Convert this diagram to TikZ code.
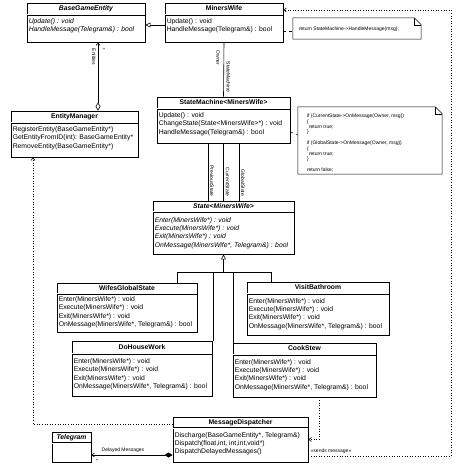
\documentclass[tikz,border=0pt]{standalone}
\usepackage{fontspec}
\setmainfont{Liberation Sans}
\usetikzlibrary{positioning}
\usetikzlibrary{arrows.meta}

\begin{document}
\begin{tikzpicture}[x=1pt, y=-1pt,
    clase/.style={draw, line width=0.9pt, inner sep=0pt},
    titulo/.style={font=\fontsize{6.8}{8}\selectfont\bfseries, inner sep=0pt},
    tituloabs/.style={font=\fontsize{6.8}{8}\selectfont\bfseries\itshape, inner sep=0pt},
    metodos/.style={font=\fontsize{6.8}{8.3}\selectfont, align=left, inner sep=0pt},
    metodosabs/.style={font=\fontsize{6.8}{8.3}\selectfont\itshape, align=left, inner sep=0pt},
    separador/.style={double, double distance=0.9pt, line width=0.5pt},
    etiqueta/.style={font=\fontsize{5}{6}\selectfont, inner sep=0pt},
    textonota/.style={font=\fontsize{5}{5.4}\selectfont, align=left, inner sep=0pt},
    nota/.style={inner sep=0pt},
    borde/.style={line width=0.5pt},
    linea/.style={line width=0.6pt},
    herencia/.style={linea, -{Triangle[open, length=5pt, width=5pt]}},
    agregacion/.style={linea, {Diamond[open, length=8pt, width=5pt]}-{Straight Barb[length=2.5pt, width=4pt]}},
    composicion/.style={linea, {Diamond[length=8pt, width=5pt]}-{Straight Barb[length=2.5pt, width=4pt]}},
    dependencia/.style={linea, dotted, -{Straight Barb[length=2.5pt, width=4pt]}},
    enlacenota/.style={borde, dashed}]
    \useasboundingbox (0,0) rectangle (474,471);

    % Clases
    \node[clase, minimum width=118, minimum height=39] (base) at (86,22.5) {};
    \node[tituloabs, below=2.5pt of base.north] (baseT) {BaseGameEntity};
    \draw[separador] ([yshift=-12pt]base.north west) -- ([yshift=-12pt]base.north east);
    \node[metodosabs, below right=16pt and 2pt of base.north west] (baseM) {Update() : void\\HandleMessage(Telegram\&) : bool};

    \node[clase, minimum width=118, minimum height=39] (wife) at (224,22.5) {};
    \node[titulo, below=2.5pt of wife.north] (wifeT) {MinersWife};
    \draw[separador] ([yshift=-12pt]wife.north west) -- ([yshift=-12pt]wife.north east);
    \node[metodos, below right=16pt and 2pt of wife.north west] (wifeM) {Update() : void\\HandleMessage(Telegram\&) : bool};

    \node[clase, minimum width=127, minimum height=46] (manager) at (74.5,134) {};
    \node[titulo, below=3pt of manager.north] (managerT) {EntityManager};
    \draw[separador] ([yshift=-12pt]manager.north west) -- ([yshift=-12pt]manager.north east);
    \node[metodos, below right=16pt and 2pt of manager.north west] (managerM) {RegisterEntity(BaseGameEntity*)\\GetEntityFromID(int): BaseGameEntity*\\RemoveEntity(BaseGameEntity*)};

    \node[clase, minimum width=133, minimum height=46] (machine) at (223.5,120) {};
    \node[titulo, below=2.5pt of machine.north] (machineT) {StateMachine<MinersWife>};
    \draw[separador] ([yshift=-12pt]machine.north west) -- ([yshift=-12pt]machine.north east);
    \node[metodos, below right=16pt and 2pt of machine.north west] (machineM) {Update() : void\\ChangeState(State<MinersWife>*) : void\\HandleMessage(Telegram\&) : bool};

    \node[clase, minimum width=141, minimum height=53] (state) at (223.5,227.5) {};
    \node[tituloabs, below=2.5pt of state.north] (stateT) {State<MinersWife>};
    \draw[separador] ([yshift=-11pt]state.north west) -- ([yshift=-11pt]state.north east);
    \node[metodosabs, below right=16.5pt and 2pt of state.north west] (stateM) {Enter(MinersWife*) : void\\Execute(MinersWife*) : void\\Exit(MinersWife*) : void\\OnMessage(MinersWife*, Telegram\&) : bool};

    \node[clase, minimum width=140, minimum height=49] (global) at (127,307.5) {};
    \node[titulo, below=2.5pt of global.north] (globalT) {WifesGlobalState};
    \draw[separador] ([yshift=-11pt]global.north west) -- ([yshift=-11pt]global.north east);
    \node[metodos, below right=14pt and 2pt of global.north west] (globalM) {Enter(MinersWife*) : void\\Execute(MinersWife*) : void\\Exit(MinersWife*) : void\\OnMessage(MinersWife*, Telegram\&) : bool};

    \node[clase, minimum width=142, minimum height=53] (visit) at (318,308.5) {};
    \node[titulo, below=2.5pt of visit.north] (visitT) {VisitBathroom};
    \draw[separador] ([yshift=-12pt]visit.north west) -- ([yshift=-12pt]visit.north east);
    \node[metodos, below right=16.5pt and 2pt of visit.north west] (visitM) {Enter(MinersWife*) : void\\Execute(MinersWife*) : void\\Exit(MinersWife*) : void\\OnMessage(MinersWife*, Telegram\&) : bool};

    \node[clase, minimum width=140, minimum height=55] (house) at (142,368.5) {};
    \node[titulo, below=3.5pt of house.north] (houseT) {DoHouseWork};
    \draw[separador] ([yshift=-13pt]house.north west) -- ([yshift=-13pt]house.north east);
    \node[metodos, below right=18pt and 2pt of house.north west] (houseM) {Enter(MinersWife*) : void\\Execute(MinersWife*) : void\\Exit(MinersWife*) : void\\OnMessage(MinersWife*, Telegram\&) : bool};

    \node[clase, minimum width=143, minimum height=54] (stew) at (304.5,370) {};
    \node[titulo, below=3pt of stew.north] (stewT) {CookStew};
    \draw[separador] ([yshift=-12pt]stew.north west) -- ([yshift=-12pt]stew.north east);
    \node[metodos, below right=16.5pt and 2pt of stew.north west] (stewM) {Enter(MinersWife*) : void\\Execute(MinersWife*) : void\\Exit(MinersWife*) : void\\OnMessage(MinersWife*, Telegram\&) : bool};

    \node[clase, minimum width=135, minimum height=45] (dispatcher) at (240.5,439.5) {};
    \node[titulo, below=2.5pt of dispatcher.north] (dispatcherT) {MessageDispatcher};
    \draw[separador] ([yshift=-11.5pt]dispatcher.north west) -- ([yshift=-11.5pt]dispatcher.north east);
    \node[metodos, below right=15.5pt and 2pt of dispatcher.north west] (dispatcherM) {Discharge(BaseGameEntity*, Telegram\&)\\Dispatch(float,int, int,int,void*)\\DispatchDelayedMessages()};

    \node[clase, minimum width=39, minimum height=30] (telegram) at (71.5,447) {};
    \node[tituloabs, below=2.5pt of telegram.north] (telegramT) {Telegram};
    \draw[separador] ([yshift=-11.5pt]telegram.north west) -- ([yshift=-11.5pt]telegram.north east);

    % Notas
    \node[nota, minimum width=128, minimum height=21] (nota1) at (357,28.5) {};
    \draw[borde] (nota1.south west) -- (nota1.north west) -- ([xshift=-7pt]nota1.north east) -- ([yshift=-7pt]nota1.north east) -- (nota1.south east) -- cycle;
    \draw[borde] ([xshift=-7pt]nota1.north east) |- ([yshift=-7pt]nota1.north east);
    \node[textonota, below right=8.5pt and 6pt of nota1.north west] (nota1T) {return StateMachine->HandleMessage(msg);};

    \node[nota, minimum width=144, minimum height=67] (nota2) at (370,140.5) {};
    \draw[borde] (nota2.south west) -- (nota2.north west) -- ([xshift=-7pt]nota2.north east) -- ([yshift=-7pt]nota2.north east) -- (nota2.south east) -- cycle;
    \draw[borde] ([xshift=-7pt]nota2.north east) |- ([yshift=-7pt]nota2.north east);
    \node[textonota, below right=7pt and 9pt of nota2.north west] (nota2T) {if (CurrentState->OnMessage(Owner, msg))\\\{\\\hspace*{2pt}return true;\\\}\\[5.4pt]if (GlobalState->OnMessage(Owner, msg))\\\{\\\hspace*{2pt}return true;\\\}\\[5.4pt]return false;};

    % Relaciones
    \draw[herencia] ([yshift=-2.5pt]wife.west) -- ([yshift=-2.5pt]base.east);
    \draw[agregacion] ([xshift=23.5pt]manager.north) -- ([xshift=12pt]base.south);
    \draw[composicion, -] (wife.south) -- (machine.north);
    \draw[agregacion, -] ([xshift=-15.5pt]machine.south) -- ([xshift=-15.5pt]state.north);
    \draw[agregacion, -] (machine.south) -- (state.north);
    \draw[agregacion, -] ([xshift=15.5pt]machine.south) -- ([xshift=15.5pt]state.north);

    \coordinate (barra) at (223.5,272);
    \draw[herencia] (barra) -- (state.south);
    \draw[linea] ([xshift=50pt]global.north) |- (barra);
    \draw[linea] ([xshift=-47pt]visit.north) |- (barra);
    \draw[linea] ([xshift=71pt]house.north) |- (barra);
    \draw[linea] ([xshift=-71.5pt]stew.north) |- (barra);

    \draw[dependencia] ([xshift=14.5pt]stew.south) |- (dispatcher.east);
    \draw[dependencia] ([yshift=15.5pt]dispatcher.west) -| ([xshift=-41.5pt]manager.south);
    \coordinate (esquina) at (451,230);
    \draw[dependencia] ([yshift=-16.5pt]dispatcher.east) -| (esquina) |- ([yshift=12.5pt]wife.east);
    \draw[composicion] ([yshift=-15.5pt]dispatcher.west) -- ([yshift=-8pt]telegram.east);

    \draw[enlacenota] ([yshift=-8.5pt]wife.east) -- ([yshift=-2.5pt]nota1.west);
    \draw[enlacenota] ([yshift=-12pt]machine.east) -- ([yshift=5.5pt]nota2.west);

    % Etiquetas
    \node[etiqueta, rotate=-90] (entities) at (94,57) {Entities};
    \node[etiqueta] (muchos1) at (104,50) {*};
    \node[etiqueta, rotate=-90] (owner) at (218,58) {Owner};
    \node[etiqueta, rotate=-90] (smlabel) at (228.5,77) {StateMachine};
    \node[etiqueta, rotate=-90] (previous) at (212,181) {PreviousState};
    \node[etiqueta, rotate=-90] (current) at (227.5,182) {CurrentState};
    \node[etiqueta, rotate=-90] (globallabel) at (243,183) {GlobalState};
    \node[etiqueta] (delayed) at (123,450) {Delayed Messages};
    \node[etiqueta] (muchos2) at (97,461) {*};
    \node[etiqueta] (sends) at (331,451) {«sends message»};
\end{tikzpicture}
\end{document}
